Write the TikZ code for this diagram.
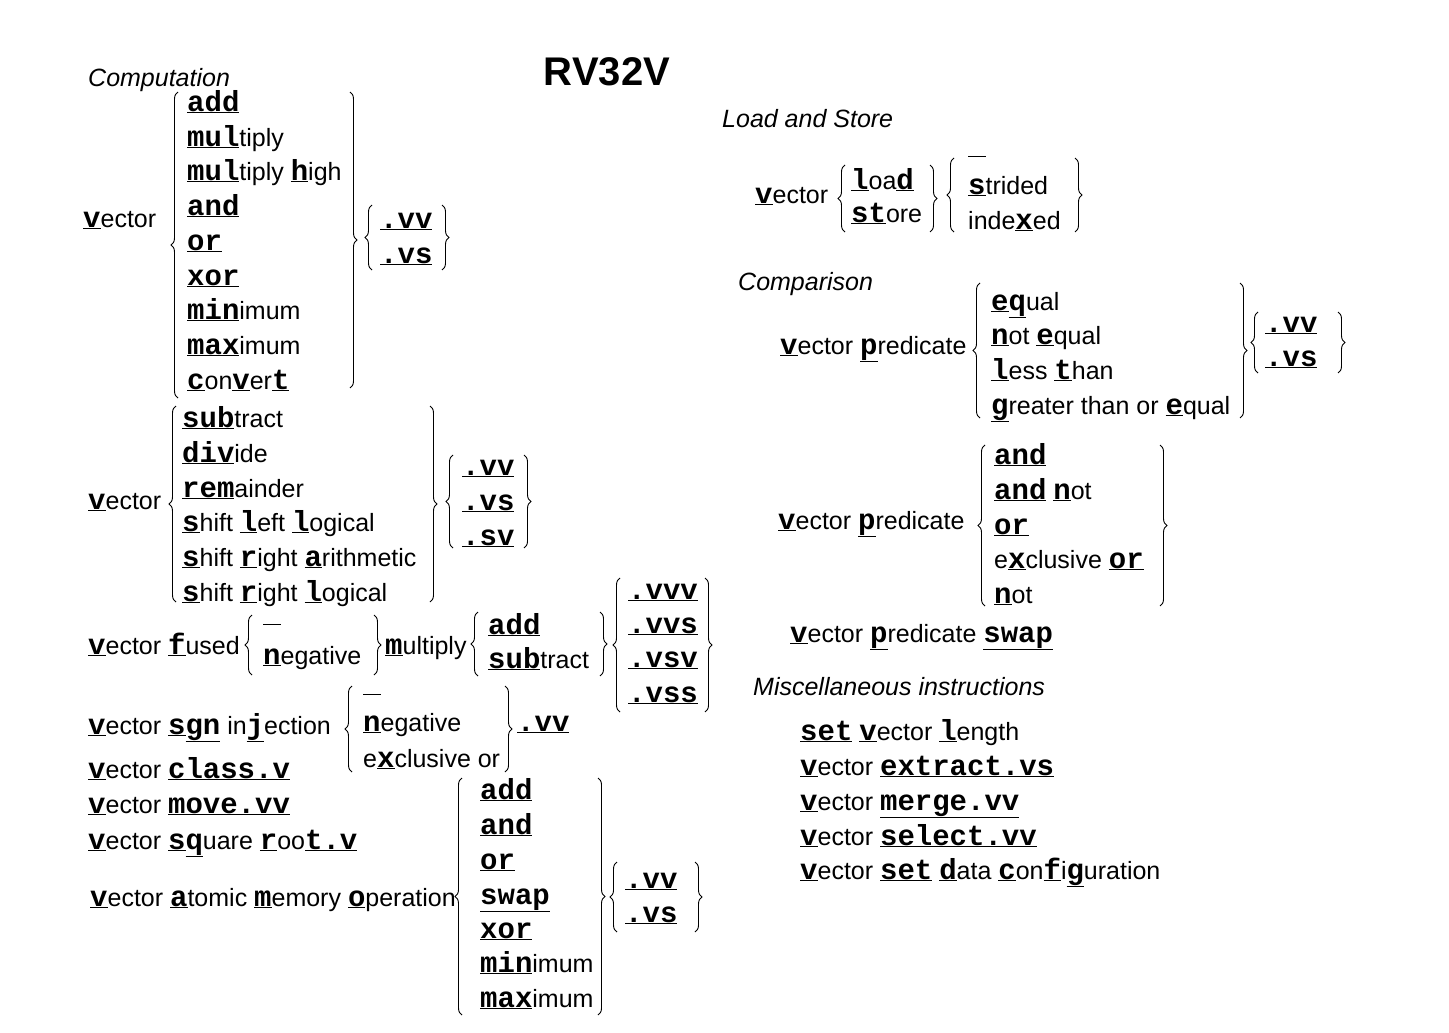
\documentclass[tikz,border=0pt]{standalone}
\usepackage{fontspec}
\setmainfont{Liberation Sans}
\newfontfamily\monof{Liberation Mono}[Scale=1.16]
\usetikzlibrary{decorations.pathreplacing}
\newcommand\K[1]{\underline{{\monof\bfseries #1}}}
\newcommand\E{\underline{\phantom{\monof\bfseries n}}}
\begin{document}
\begin{tikzpicture}[x=1pt,y=-1pt,
  t/.style={anchor=base west,inner sep=0pt,font=\fontsize{25}{30}\selectfont},
  h/.style={t,font=\fontsize{25}{30}\selectfont\itshape},
  br/.style={decorate,decoration={brace,amplitude=7pt},line width=0.9pt}]
\useasboundingbox[fill=white] (0,0) rectangle (1449,1033);
\node[font=\fontsize{40}{48}\selectfont\bfseries,inner sep=0pt] (title) at (607,72) {RV32V};
% Computation
\node[h] (hc) at (88,86) {Computation};
\node[t] (v1) at (83,227) {\K{v}ector};
\draw[br] (178,398) -- (178,92);
\node[t] (a1) at (187,111) {\K{add}};
\node[t] (a2) at (187,146) {\K{mul}tiply};
\node[t] (a3) at (187,180) {\K{mul}tiply \K{h}igh};
\node[t] (a4) at (187,215) {\K{and}};
\node[t] (a5) at (187,250) {\K{or}};
\node[t] (a6) at (187,285) {\K{xor}};
\node[t] (a7) at (187,319) {\K{min}imum};
\node[t] (a8) at (187,354) {\K{max}imum};
\node[t] (a9) at (187,389) {\K{c}on\K{v}er\K{t}};
\draw[br] (350,92) -- (350,388);
\draw[br] (372,270) -- (372,205);
\node[t] (s1) at (380,228) {\K{.vv}};
\node[t] (s2) at (380,263) {\K{.vs}};
\draw[br] (442,205) -- (442,270);
% group 2
\node[t] (v2) at (88,509) {\K{v}ector};
\draw[br] (176,602) -- (176,406);
\node[t] (b1) at (182,427) {\K{sub}tract};
\node[t] (b2) at (182,462) {\K{div}ide};
\node[t] (b3) at (182,497) {\K{rem}ainder};
\node[t] (b4) at (182,531) {\K{s}hift \K{l}eft \K{l}ogical};
\node[t] (b5) at (182,566) {\K{s}hift \K{r}ight \K{a}rithmetic};
\node[t] (b6) at (182,601) {\K{s}hift \K{r}ight \K{l}ogical};
\draw[br] (430,406) -- (430,602);
\draw[br] (453,548) -- (453,455);
\node[t] (s3) at (462,475) {\K{.vv}};
\node[t] (s4) at (462,510) {\K{.vs}};
\node[t] (s5) at (462,545) {\K{.sv}};
\draw[br] (524,455) -- (524,548);
% fused
\node[t] (f1) at (88,654) {\K{v}ector \K{f}used};
\draw[br] (252,675) -- (252,615);
\node[t] (f2) at (263,623) {\E};
\node[t] (f3) at (263,664) {\K{n}egative};
\draw[br] (374,615) -- (374,675);
\node[t] (f4) at (385,654) {\K{m}ultiply};
\draw[br] (478,676) -- (478,612);
\node[t] (f5) at (488,634) {\K{add}};
\node[t] (f6) at (488,668) {\K{sub}tract};
\draw[br] (600,612) -- (600,676);
\draw[br] (620,712) -- (620,578);
\node[t] (f7) at (628,599) {\K{.vvv}};
\node[t] (f8) at (628,633) {\K{.vvs}};
\node[t] (f9) at (628,667) {\K{.vsv}};
\node[t] (f10) at (628,702) {\K{.vss}};
\draw[br] (705,578) -- (705,712);
% sign injection
\node[t] (g1) at (88,734) {\K{v}ector \K{s}\K{gn} in\K{j}ection};
\draw[br] (352,772) -- (352,686);
\node[t] (g2) at (363,693) {\E};
\node[t] (g3) at (363,731) {\K{n}egative};
\node[t] (g4) at (363,767) {e\K{x}clusive or};
\draw[br] (505,686) -- (505,772);
\node[t] (g5) at (517,731) {\K{.vv}};
\node[t] (m1) at (88,778) {\K{v}ector \K{class.v}};
\node[t] (m2) at (88,813) {\K{v}ector \K{move}\K{.vv}};
\node[t] (m3) at (88,849) {\K{v}ector \K{s}\K{q}uare \K{r}oo\K{t.v}};
% atomic
\node[t] (at) at (90,906) {\K{v}ector \K{a}tomic \K{m}emory \K{o}peration};
\draw[br] (462,1015) -- (462,778);
\node[t] (c1) at (480,799) {\K{add}};
\node[t] (c2) at (480,834) {\K{and}};
\node[t] (c3) at (480,869) {\K{or}};
\node[t] (c4) at (480,904) {\K{swap}};
\node[t] (c5) at (480,938) {\K{xor}};
\node[t] (c6) at (480,972) {\K{min}imum};
\node[t] (c7) at (480,1007) {\K{max}imum};
\draw[br] (598,778) -- (598,1015);
\draw[br] (617,932) -- (617,862);
\node[t] (s6) at (625,888) {\K{.vv}};
\node[t] (s7) at (625,922) {\K{.vs}};
\draw[br] (695,862) -- (695,932);
% Load and store
\node[h] (hl) at (722,127) {Load and Store};
\node[t] (l1) at (755,203) {\K{v}ector};
\draw[br] (845,232) -- (845,165);
\node[t] (l2) at (851,189) {\K{l}oa\K{d}};
\node[t] (l3) at (851,222) {\K{s}\K{t}ore};
\draw[br] (930,165) -- (930,232);
\draw[br] (954,232) -- (954,158);
\node[t] (l4) at (968,155) {\E};
\node[t] (l5) at (968,194) {\K{s}trided};
\node[t] (l6) at (968,229) {inde\K{x}ed};
\draw[br] (1075,158) -- (1075,232);
% Comparison
\node[h] (hp) at (738,290) {Comparison};
\node[t] (p1) at (780,354) {\K{v}ector \K{p}redicate};
\draw[br] (980,418) -- (980,283);
\node[t] (p2) at (991,310) {\K{e}\K{q}ual};
\node[t] (p3) at (991,344) {\K{n}ot \K{e}qual};
\node[t] (p4) at (991,379) {\K{l}ess \K{t}han};
\node[t] (p5) at (991,414) {\K{g}reater than or \K{e}qual};
\draw[br] (1240,283) -- (1240,418);
\draw[br] (1258,373) -- (1258,312);
\node[t] (s8) at (1265,332) {\K{.vv}};
\node[t] (s9) at (1265,366) {\K{.vs}};
\draw[br] (1338,312) -- (1338,373);
\node[t] (q1) at (778,529) {\K{v}ector \K{p}redicate};
\draw[br] (985,606) -- (985,445);
\node[t] (q2) at (994,464) {\K{and}};
\node[t] (q3) at (994,499) {\K{and} \K{n}ot};
\node[t] (q4) at (994,534) {\K{or}};
\node[t] (q5) at (994,568) {e\K{x}clusive \K{or}};
\node[t] (q6) at (994,603) {\K{n}ot};
\draw[br] (1160,445) -- (1160,606);
\node[t] (q7) at (790,642) {\K{v}ector \K{p}redicate \K{swap}};
% Misc
\node[h] (hm) at (753,695) {Miscellaneous instructions};
\node[t] (n1) at (800,740) {\K{set} \K{v}ector \K{l}ength};
\node[t] (n2) at (800,775) {\K{v}ector \K{extract.vs}};
\node[t] (n3) at (800,810) {\K{v}ector \K{merge.vv}};
\node[t] (n4) at (800,845) {\K{v}ector \K{select.vv}};
\node[t] (n5) at (800,879) {\K{v}ector \K{set} \K{d}ata \K{c}on\K{f}i\K{g}uration};
\end{tikzpicture}
\end{document}
